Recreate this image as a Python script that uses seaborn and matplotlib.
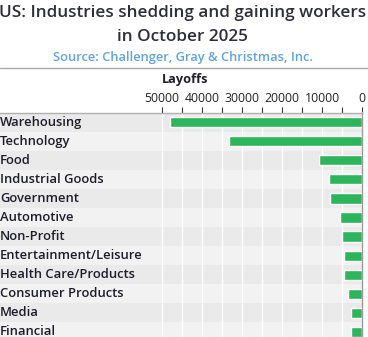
import matplotlib
matplotlib.use("Agg")
import matplotlib.pyplot as plt
from matplotlib.lines import Line2D
import seaborn as sns
import pandas as pd

industries = ["Warehousing", "Technology", "Food", "Industrial Goods", "Government",
              "Automotive", "Non-Profit", "Entertainment/Leisure", "Health Care/Products",
              "Consumer Products", "Media", "Financial"]
layoffs = [47878, 33281, 10850, 8350, 8100, 5600, 5100, 4600, 4500, 3600, 2850, 2750]
tick_values = [50000, 45000, 40000, 35000, 30000, 25000, 20000, 15000, 10000, 5000, 0]
tick_labels = ["50000", "", "40000", "", "30000", "", "20000", "", "10000", "", "0"]

df = pd.DataFrame({"industry": industries, "layoffs": layoffs})

sns.set_theme(style="white")
plt.rcParams["font.family"] = ["Open Sans", "DejaVu Sans"]

W, H = 368, 337
fig = plt.figure(figsize=(W / 100, H / 100), dpi=100)
fig.patch.set_facecolor("white")

plot_top = 112.5
plot_right = 362
ax = fig.add_axes([0, 0, plot_right / W, (H - plot_top) / H])

row_px = 19.04
first_center = 122.3
y_top = -(first_center - plot_top) / row_px
y_bottom = (H - first_center) / row_px

# alternating row bands
for i in range(len(industries)):
    lo = max(i - 0.5, y_top)
    ax.axhspan(lo, i + 0.5, color="#eaeaea" if i % 2 == 0 else "#f2f2f2", zorder=0, lw=0)

# vertical grid lines
for v in tick_values:
    ax.axvline(v, color="white", lw=1.0, zorder=1)

sns.barplot(data=df, x="layoffs", y="industry", orient="h", color="#2cb55a",
            width=0.53, saturation=1, ax=ax, zorder=3)

# value axis runs right-to-left: 0 at the right edge, 50000 at x=162px
px_per_unit = 200 / 50000
ax.set_xlim(plot_right / px_per_unit, 0)
ax.set_ylim(y_bottom, y_top)

ax.set_xlabel("")
ax.set_ylabel("")
ax.set_yticks([])
ax.set_xticks(tick_values)
ax.set_xticklabels(tick_labels)
ax.xaxis.tick_top()
ax.tick_params(axis="x", which="both", top=True, bottom=False, length=4, width=0.8,
               color="#333333", pad=1.5, labelsize=8.8, labelcolor="#222222")
for s in ["left", "bottom"]:
    ax.spines[s].set_visible(False)
ax.spines["top"].set_color("#b0b0b0")
ax.spines["top"].set_linewidth(1.0)
ax.spines["right"].set_color("#9a9a9a")
ax.spines["right"].set_linewidth(1.0)

# category labels at the left edge
for i, name in enumerate(industries):
    ax.text(0.0, i, name, transform=ax.get_yaxis_transform(), ha="left", va="center",
            fontsize=9.4, color="#1e1e2a", fontweight="semibold", zorder=4)

# titles
fig.text(182.5 / W, 1 - 13 / H, "US: Industries shedding and gaining workers", ha="center",
         va="center", fontsize=12.3, fontweight="semibold", color="#2e2e38")
fig.text(182.5 / W, 1 - 37 / H, "in October 2025", ha="center", va="center",
         fontsize=12.3, fontweight="semibold", color="#2e2e38")
fig.text(183 / W, 1 - 58 / H, "Source: Challenger, Gray & Christmas, Inc.", ha="center",
         va="center", fontsize=9.3, fontweight="semibold", color="#5fa4dc")
fig.text(185 / W, 1 - 80 / H, "Layoffs", ha="center", va="center",
         fontsize=9.2, fontweight="bold", color="#1e1e2a")

# panel frame line
fig.add_artist(Line2D([0, 1], [1 - 68 / H, 1 - 68 / H], transform=fig.transFigure,
                      color="#a8a8a8", lw=1.0))

fig.savefig("out.png", dpi=100)
